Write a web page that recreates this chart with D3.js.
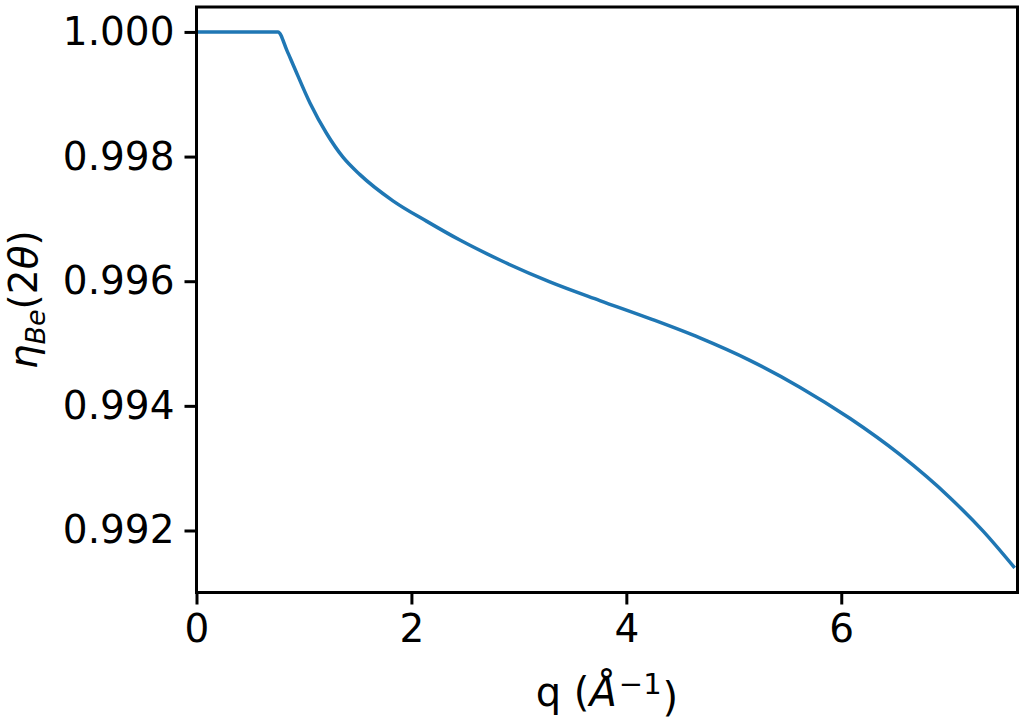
<!DOCTYPE html>
<html lang="en">
<head>
<meta charset="utf-8">
<title>eta Be vs q</title>
<script src="https://cdn.jsdelivr.net/npm/d3@7/dist/d3.min.js"></script>
<style>
  body { margin: 0; background: #fff; }
  text { font-family: "DejaVu Sans", sans-serif; }
</style>
</head>
<body>
<script>
// data
var qValues = [0, 0.758, 0.842, 0.90, 1.056, 1.211, 1.363, 1.521, 1.828, 2.144,
               2.451, 2.823, 3.288, 3.753, 4.219, 4.684, 5.149, 5.614, 6.079,
               6.544, 7.009, 7.32, 7.614];
var etaValues = [1.0000, 1.0000, 0.99970, 0.99947, 0.99886, 0.99837, 0.99799,
                 0.99771, 0.99729, 0.99696, 0.99666, 0.99634, 0.99599, 0.99569,
                 0.99540, 0.99509, 0.99473, 0.99430, 0.99380, 0.99322, 0.99253,
                 0.99199, 0.99140];
var xTicks = [0, 2, 4, 6];
var yTicks = [0.992, 0.994, 0.996, 0.998, 1.000];

// plot box (note: "top" is taken by window.top)
var w = 1025, h = 720;
var boxL = 196.5, boxR = 1017.5, boxT = 7, boxB = 592.5;

var points = qValues.map(function(q, i) { return [q, etaValues[i]]; });

var xScale = d3.scaleLinear().domain([0, 7.64]).range([boxL, boxR]);
var yScale = d3.scaleLinear().domain([0.991005, 1.0004]).range([boxB, boxT]);

var svg = d3.select("body").append("svg")
    .attr("width", w)
    .attr("height", h);

var line = d3.line()
    .x(function(d) { return xScale(d[0]); })
    .y(function(d) { return yScale(d[1]); })
    .curve(d3.curveMonotoneX);

svg.append("path")
    .datum(points)
    .attr("d", line)
    .attr("fill", "none")
    .attr("stroke", "#1f77b4")
    .attr("stroke-width", 3.5)
    .attr("stroke-linejoin", "round");

// axes
var xAxis = d3.axisBottom(xScale)
    .tickValues(xTicks)
    .tickFormat(d3.format("d"))
    .tickSize(12)
    .tickPadding(10);

var yAxis = d3.axisLeft(yScale)
    .tickValues(yTicks)
    .tickFormat(d3.format(".3f"))
    .tickSize(12)
    .tickPadding(10);

var gx = svg.append("g")
    .attr("transform", "translate(0," + boxB + ")")
    .call(xAxis);

var gy = svg.append("g")
    .attr("transform", "translate(" + boxL + ",0)")
    .call(yAxis);

[gx, gy].forEach(function(g) {
    g.select(".domain").remove();
    g.selectAll(".tick line").attr("stroke", "#000").attr("stroke-width", 3);
    g.selectAll(".tick text")
        .attr("fill", "#000")
        .style("font-family", "'DejaVu Sans', sans-serif")
        .style("font-size", "39px");
});

// frame
svg.append("rect")
    .attr("x", boxL)
    .attr("y", boxT)
    .attr("width", boxR - boxL)
    .attr("height", boxB - boxT)
    .attr("fill", "none")
    .attr("stroke", "#000")
    .attr("stroke-width", 3);

// x label: q (Å^-1)
var xl = svg.append("text")
    .attr("x", (boxL + boxR) / 2)
    .attr("y", 706)
    .attr("text-anchor", "middle")
    .style("font-size", "40px");
xl.append("tspan").text("q (");
xl.append("tspan").style("font-style", "italic").text("Å");
xl.append("tspan").attr("dy", "-0.42em").attr("dx", 2).style("font-size", "29px").text("−1");
xl.append("tspan").attr("dy", "0.42em").attr("dx", 1).text(")");

// y label: eta_Be(2 theta)
var yl = svg.append("text")
    .attr("transform", "translate(37," + (boxT + boxB) / 2 + ") rotate(-90)")
    .attr("text-anchor", "middle")
    .style("font-size", "39px");
yl.append("tspan").style("font-style", "italic").text("η");
yl.append("tspan").attr("dy", 8).style("font-style", "italic").style("font-size", "27px").text("Be");
yl.append("tspan").attr("dy", -8).text("(2");
yl.append("tspan").style("font-style", "italic").text("θ");
yl.append("tspan").text(")");
</script>
</body>
</html>
